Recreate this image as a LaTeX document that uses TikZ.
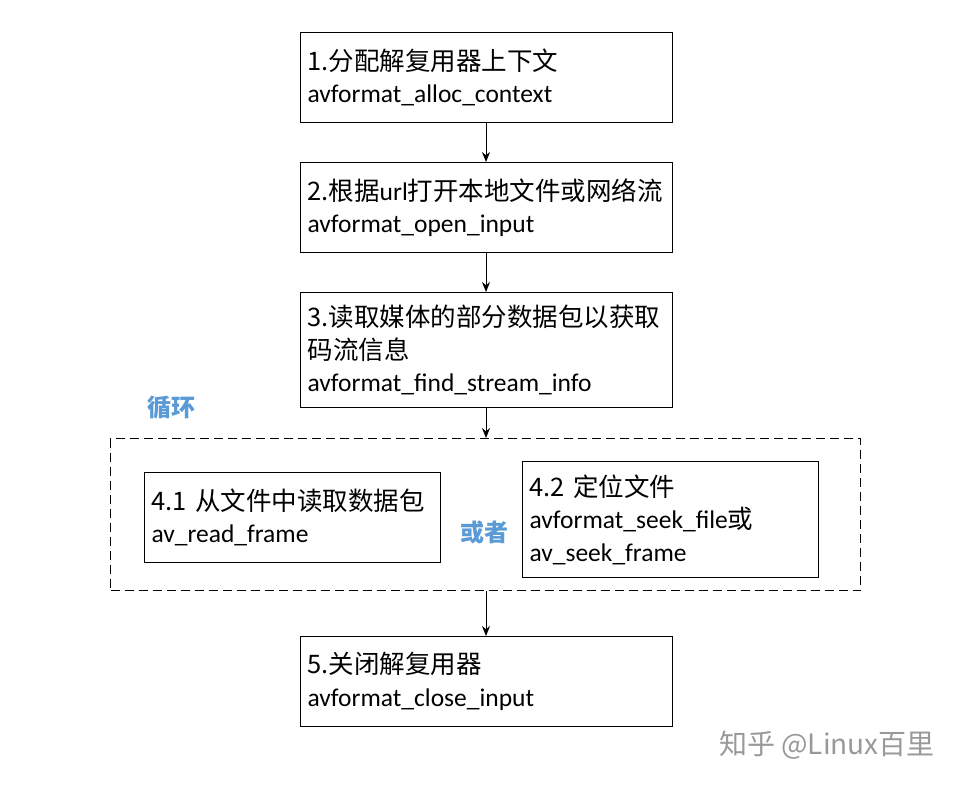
\documentclass[tikz,border=0pt]{standalone}
\usepackage{fontspec}
\setmainfont{Carlito}
\newfontfamily\cjk{Noto Sans CJK SC}
\usetikzlibrary{arrows.meta}
\definecolor{lblue}{HTML}{5B9BD5}
\begin{document}
\begin{tikzpicture}[x=1pt,y=-1pt,
  box/.style={draw,line width=1pt,anchor=north west,align=left,inner xsep=7pt,font=\fontsize{25.5}{32.5}\selectfont},
  arr/.style={-{Stealth[length=10pt,width=8pt]},line width=1pt},
  lab/.style={text=lblue,font=\cjk\bfseries\fontsize{24}{26}\selectfont}]
\useasboundingbox (0,0) rectangle (963,789);
\node[box,minimum width=372pt,minimum height=90pt,text width=358pt] (b1) at (300,32) {{\cjk 1.分配解复用器上下文}\\avformat\_alloc\_context};
\node[box,minimum width=372pt,minimum height=90pt,text width=358pt] (b2) at (300,162) {{\cjk 2.根据}url{\cjk 打开本地文件或网络流}\\avformat\_open\_input};
\node[box,minimum width=372pt,minimum height=115pt,text width=358pt] (b3) at (300,292) {{\cjk 3.读取媒体的部分数据包以获取}\\{\cjk 码流信息}\\avformat\_find\_stream\_info};
\node[draw,dash pattern=on 9pt off 5pt,line width=1pt,anchor=north west,minimum width=750pt,minimum height=152pt] (loop) at (110,438) {};
\node[lab] (lt) at (171,408) {循环};
\node[box,minimum width=296pt,minimum height=90pt,text width=282pt] (b41) at (144,472) {{\cjk 4.1 从文件中读取数据包}\\av\_read\_frame};
\node[box,minimum width=296pt,minimum height=116pt,text width=282pt] (b42) at (522,461) {{\cjk 4.2 定位文件}\\avformat\_seek\_file{\cjk 或}\\av\_seek\_frame};
\node[lab] (or) at (484,532) {或者};
\node[box,minimum width=372pt,minimum height=90pt,text width=358pt] (b5) at (300,636) {{\cjk 5.关闭解复用器}\\avformat\_close\_input};
\node[text=black!40,font=\cjk\fontsize{28}{30}\selectfont] (wm) at (827,745) {知乎 @Linux百里};
\draw[arr] (b1.south-|486,0) -- (b2.north-|486,0);
\draw[arr] (b2.south-|486,0) -- (b3.north-|486,0);
\draw[arr] (b3.south-|486,0) -- (loop.north-|486,0);
\draw[arr] (loop.south-|486,0) -- (b5.north-|486,0);
\end{tikzpicture}
\end{document}
